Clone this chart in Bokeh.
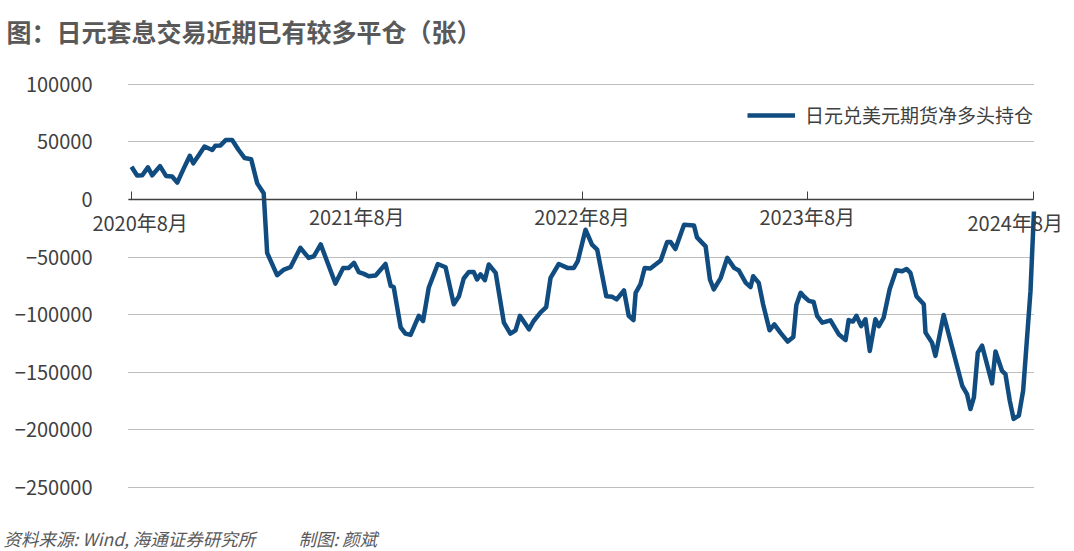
import numpy as np
import pandas as pd
from bokeh.plotting import figure
from bokeh.models import (Range1d, FixedTicker, CustomJSTickFormatter, DatetimeAxis,
                          BasicTickFormatter, Label, Legend, LegendItem)
from bokeh.embed import file_html
from bokeh.resources import INLINE

# ---------------- data ----------------
start_date = "2020-08-04"
# weeks since start_date for each turning point of the series
weeks = [0.0, 1.3, 2.5, 3.8, 4.8, 6.6, 8.0, 9.4, 10.6, 12.1, 13.5, 14.3, 15.6, 16.9,
         18.7, 19.4, 20.6, 21.8, 23.3, 24.8, 26.2, 27.7, 29.1, 30.6, 31.4, 33.7,
         35.3, 36.8, 39.1, 41.0, 42.2, 43.8, 47.2, 49.0, 50.3, 51.5, 52.6, 53.8,
         54.9, 56.5, 58.8, 60.0, 60.7, 62.3, 63.4, 64.6, 66.5, 67.5, 68.8, 70.9,
         72.7, 74.6, 75.8, 76.9, 78.1, 79.2, 80.0, 80.8, 81.8, 82.7, 84.3, 86.2,
         87.7, 88.9, 89.9, 92.0, 93.1, 94.7, 96.0, 97.0, 98.9, 100.9, 102.4, 103.3,
         105.1, 106.6, 107.8, 109.9, 111.3, 112.3, 114.0, 115.1, 116.2, 116.7,
         117.8, 118.8, 120.1, 122.5, 124.0, 124.8, 125.9, 127.9, 130.2, 130.9,
         132.9, 133.9, 134.8, 136.4, 137.9, 139.5, 140.6, 142.2, 143.3, 143.9,
         145.2, 146.2, 147.7, 148.8, 150.2, 151.9, 153.2, 153.9, 154.9, 155.6,
         156.8, 157.9, 158.7, 159.9, 161.8, 163.7, 165.3, 166.0, 167.0, 167.8,
         168.9, 169.9, 170.9, 172.2, 173.0, 174.1, 175.5, 177.0, 178.4, 179.4,
         180.3, 181.7, 183.4, 183.8, 185.3, 186.1, 188.0, 192.3, 193.4, 194.2,
         195.0, 195.9, 196.9, 199.2, 200.0, 201.5, 202.3, 203.3, 204.2, 205.4,
         206.4, 208.1, 208.9]
# net long positions (contracts)
net_long = [28500, 20800, 21000, 28000, 21000, 29000, 20500, 20000, 14700, 27000,
            38000, 31400, 38700, 46000, 43000, 46700, 47000, 51600, 51600, 43000,
            36000, 35000, 14000, 5500, -46400, -65700, -60800, -58800, -42000,
            -50700, -49300, -39000, -73000, -59400, -59400, -55000, -63000, -64600,
            -66600, -66000, -56000, -75000, -76000, -111000, -116500, -117600,
            -101000, -105500, -76700, -56000, -58800, -91000, -84000, -68600,
            -62900, -62900, -69500, -65000, -70000, -56500, -63700, -107000,
            -116500, -113600, -101000, -112700, -105500, -98000, -93400, -68000,
            -56000, -59400, -59400, -53600, -26200, -39200, -43500, -84000,
            -84500, -86800, -79000, -101000, -104700, -81000, -73800, -59400,
            -60000, -53000, -37000, -37000, -43000, -21900, -22500, -32900,
            -40700, -69500, -78000, -68000, -50700, -59400, -61700, -72400,
            -76000, -66600, -72400, -91000, -113600, -108400, -115600, -123400,
            -119400, -91700, -81000, -84000, -88000, -89000, -101000, -107000,
            -105000, -117000, -122000, -104700, -106000, -101000, -110000,
            -104000, -131500, -104000, -110000, -102700, -78000, -61400, -62300,
            -60300, -63700, -84000, -91000, -115600, -124300, -135800, -100300,
            -161800, -169000, -182000, -171900, -133000, -127000, -159700,
            -132000, -148800, -151700, -174700, -190600, -187700, -166000,
            -79600, -10400]
x_tick_dates = ["2020-08-04", "2021-08-04", "2022-08-04", "2023-08-04", "2024-08-04"]
x_tick_labels = ["2020年8月", "2021年8月", "2022年8月", "2023年8月", "2024年8月"]
y_ticks = [100000, 50000, 0, -50000, -100000, -150000, -200000, -250000]
series_name = "日元兑美元期货净多头持仓"
title_text = "图：日元套息交易近期已有较多平仓（张）"
source_text = "资料来源: Wind, 海通证券研究所"
author_text = "制图: 颜斌"

# ---------------- layout constants (pixels) ----------------
W, H = 1074, 551
PX_PER_WEEK = 4.32          # horizontal scale
X0_PX = 131                 # pixel of start_date
PLOT_LEFT, PLOT_RIGHT = 128, 1033
PX_PER_UNIT = 403 / 350000  # vertical scale
Y0_PX = 199                 # pixel of value 0

FONT = "Noto Sans CJK SC"
LINE_COLOR = "#114c80"
TEXT_COLOR = "#404040"
DAY_MS = 86400000


def px_to_date(px):
    return pd.Timestamp(start_date) + pd.Timedelta(days=(px - X0_PX) / PX_PER_WEEK * 7)


def px_to_value(py):
    return (Y0_PX - py) / PX_PER_UNIT


t0 = pd.Timestamp(start_date)
dates = t0 + pd.to_timedelta(np.array(weeks) * 7, unit="D")
tick_ms = [pd.Timestamp(d).value // 10**6 for d in x_tick_dates]
left_ms = px_to_date(PLOT_LEFT).value // 10**6
right_ms = px_to_date(PLOT_RIGHT).value // 10**6

p = figure(width=W, height=H, x_axis_type="datetime",
           x_range=Range1d(px_to_date(0), px_to_date(W)),
           y_range=Range1d(px_to_value(H), px_to_value(0)),
           output_backend="svg", toolbar_location=None,
           min_border_left=0, min_border_right=0,
           min_border_top=0, min_border_bottom=0)
p.outline_line_color = None
p.background_fill_color = "white"
p.border_fill_color = "white"
p.xgrid.visible = False
p.ygrid.visible = False

# y axis: labels left of the plot area, dotted tick lines across it as the grid
ya = p.yaxis[0]
ya.fixed_location = left_ms
ya.ticker = FixedTicker(ticks=y_ticks)
ya.formatter = BasicTickFormatter(use_scientific=False)
ya.axis_line_color = None
ya.major_tick_in = PLOT_RIGHT - PLOT_LEFT
ya.major_tick_out = 0
ya.major_tick_line_color = "#7a7a7a"
ya.major_tick_line_dash = "1 1"
ya.major_tick_line_width = 1
ya.minor_tick_line_color = None
ya.major_label_standoff = 36
ya.major_label_text_font = FONT
ya.major_label_text_font_size = "20px"
ya.major_label_text_color = TEXT_COLOR
ya.level = "underlay"

# x axis at y = 0
xa = p.xaxis[0]
xa.fixed_location = 0
xa.bounds = (left_ms, right_ms)
xa.ticker = FixedTicker(ticks=tick_ms)
xa.formatter = CustomJSTickFormatter(
    args=dict(labels=x_tick_labels),
    code="return (index == 0 || index == labels.length - 1) ? '' : labels[index];")
xa.axis_line_color = "#3f3f3f"
xa.axis_line_width = 1.5
xa.major_tick_line_color = "#3f3f3f"
xa.major_tick_in = 8
xa.major_tick_out = 0
xa.minor_tick_line_color = None
xa.major_label_standoff = 2
xa.major_label_text_font = FONT
xa.major_label_text_font_size = "20px"
xa.major_label_text_color = TEXT_COLOR

# edge labels, nudged inward like the reference
edge_ticks = [tick_ms[0] + 14 * DAY_MS, tick_ms[-1] - 29 * DAY_MS]
xa2 = DatetimeAxis(fixed_location=0, ticker=FixedTicker(ticks=edge_ticks),
                   formatter=CustomJSTickFormatter(
                       args=dict(labels=[x_tick_labels[0], x_tick_labels[-1]]),
                       code="return labels[index];"),
                   axis_line_color=None, major_tick_line_color=None,
                   minor_tick_line_color=None, major_label_standoff=2,
                   major_label_text_font=FONT, major_label_text_font_size="20px",
                   major_label_text_color=TEXT_COLOR)
p.add_layout(xa2, "below")

r = p.line(dates, net_long, line_color=LINE_COLOR, line_width=4.5, line_join="round")

legend = Legend(items=[LegendItem(label=series_name, renderers=[r])],
                location=(747, H - 128), glyph_width=48, glyph_height=20,
                label_standoff=10, padding=5, margin=0,
                border_line_color=None, background_fill_alpha=0,
                label_text_font=FONT, label_text_font_size="19px",
                label_text_color=TEXT_COLOR)
p.add_layout(legend)

p.add_layout(Label(x=6, y=H - 30, x_units="screen", y_units="screen", text=title_text,
                   text_font=FONT, text_font_size="25px", text_font_style="bold",
                   text_color="#595959", text_baseline="middle"))
p.add_layout(Label(x=3, y=H - 538, x_units="screen", y_units="screen", text=source_text,
                   text_font=FONT, text_font_size="17.5px", text_font_style="italic",
                   text_color="#595959", text_baseline="middle"))
p.add_layout(Label(x=298, y=H - 538, x_units="screen", y_units="screen", text=author_text,
                   text_font=FONT, text_font_size="17.5px", text_font_style="italic",
                   text_color="#595959", text_baseline="middle"))

open("out.html", "w").write(file_html(p, INLINE))
